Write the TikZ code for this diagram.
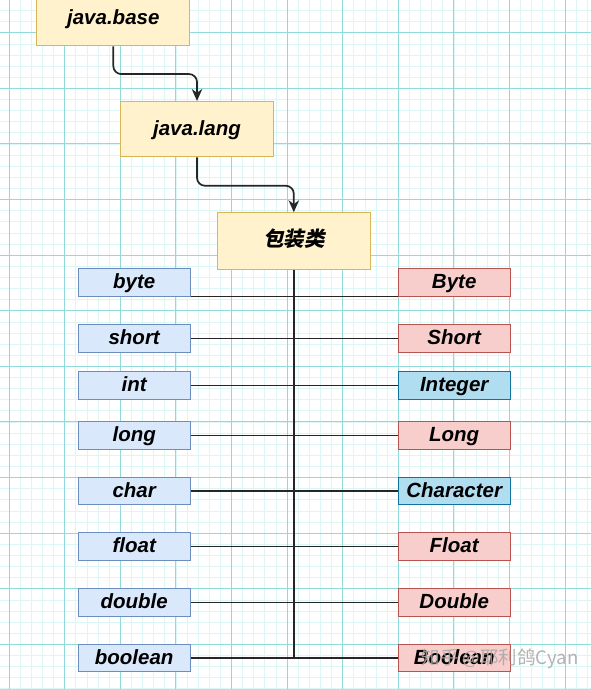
\documentclass[tikz,border=0pt]{standalone}
\usepackage{fontspec}
\setmainfont{Liberation Sans}
\newfontfamily\cjkfont[FakeSlant=0.2]{Noto Sans CJK SC}
\newfontfamily\cjkmark{Noto Sans CJK SC}
\usepackage{tikz}
\usetikzlibrary{positioning, arrows.meta}
\definecolor{minGridCol}{RGB}{220, 246, 246}
\definecolor{majGridCol}{RGB}{145, 218, 220}
\definecolor{pkgFill}{HTML}{FFF2CC}
\definecolor{pkgLine}{HTML}{D6B656}
\definecolor{primFill}{HTML}{DAE8FC}
\definecolor{primLine}{HTML}{6C8EBF}
\definecolor{wrapFill}{HTML}{F8CECC}
\definecolor{wrapLine}{HTML}{B85450}
\definecolor{oddFill}{HTML}{B1DDF0}
\definecolor{oddLine}{HTML}{10739E}
\tikzset{myMinGrid/.style={color=minGridCol, line width=0.6pt}}
\tikzset{myMajGrid/.style={color=majGridCol, line width=0.9pt}}
\tikzset{myBoxText/.style={font=\fontsize{20.5}{24}\selectfont\bfseries\itshape, inner sep=0pt, line width=1pt, text height=15pt, text depth=3pt}}
\tikzset{myPkgBox/.style={myBoxText, draw=pkgLine, fill=pkgFill, minimum width=153pt, minimum height=55.5pt}}
\tikzset{myPrimBox/.style={myBoxText, draw=primLine, fill=primFill, minimum width=111.7pt, minimum height=27.7pt}}
\tikzset{myWrapBox/.style={myBoxText, draw=wrapLine, fill=wrapFill, minimum width=111.7pt, minimum height=27.7pt}}
\tikzset{myOddBox/.style={myWrapBox, draw=oddLine, fill=oddFill}}
\tikzset{myArrowLine/.style={line width=1.7pt, color=black!85, rounded corners=8pt, -{Stealth[length=12pt, width=10.5pt]}}}
\tikzset{myLinkLine/.style={line width=1.4pt, color=black!85}}

\begin{document}
\begin{tikzpicture}[x=1pt, y=-1pt]
	\useasboundingbox (0,0) rectangle (591,689);
	% grid
	\foreach \i in {0,...,53} \draw[myMinGrid] ({-2.12+\i*11.12},0) -- ++(0,689);
	\foreach \i in {0,...,62} \draw[myMinGrid] (0,{-0.66+\i*11.12}) -- ++(591,0);
	\foreach \i in {0,...,10} \draw[myMajGrid] ({9+\i*55.6},0) -- ++(0,689);
	\foreach \i in {0,...,11} \draw[myMajGrid] (0,{32.7+\i*55.6}) -- ++(591,0);

	% packages
	\node[myPkgBox] (base) at (113.3,18.2) {java.base};
	\node[myPkgBox] (lang) at (197,129.2) {java.lang};
	\node[myPkgBox, minimum height=56.3pt, text height=16pt, text depth=4pt] (wrap) at (293.8,240.9) {\cjkfont\bfseries 包装类};
	\draw[myArrowLine] (base.south) -- ++(0,27.6) -| (lang.north);
	\draw[myArrowLine] (lang.south) -- ++(0,28.3) -| (wrap.north);

	% primitive types and wrapper classes
	\foreach \p/\w/\y/\s in {byte/Byte/282.2/myWrapBox, short/Short/338.3/myWrapBox, int/Integer/385.4/myOddBox,
		long/Long/435.5/myWrapBox, char/Character/491.1/myOddBox, float/Float/546.7/myWrapBox,
		double/Double/602.2/myWrapBox, boolean/Boolean/658/myWrapBox}{
		\node[myPrimBox] (p-\p) at (134.2,\y) {\p};
		\node[\s] (w-\w) at (454.2,\y) {\w};
	}
	\draw[myLinkLine] (wrap.south) -- (wrap.south |- p-boolean.east);
	\draw[myLinkLine] (p-byte.south east) -- (w-Byte.south west);
	\foreach \p/\w in {short/Short, int/Integer, long/Long, char/Character, float/Float, double/Double, boolean/Boolean}
		\draw[myLinkLine] (p-\p.east) -- (w-\w.west);

	% watermark
	\node[font=\fontsize{18.5}{22}\selectfont\cjkmark, text=gray!70, opacity=0.85] (mark) at (500,659) {知乎 @耶利鸽Cyan};
\end{tikzpicture}
\end{document}
